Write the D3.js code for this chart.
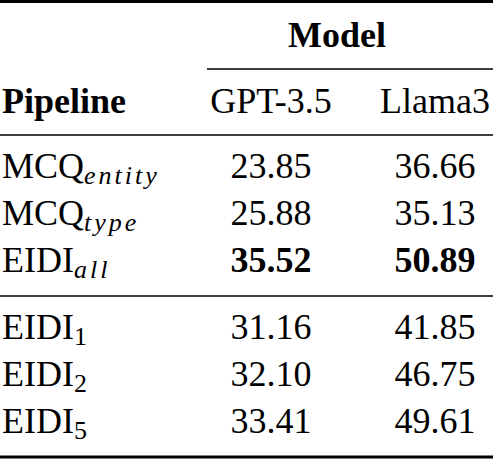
<!DOCTYPE html>
<html lang="en">
<head>
<meta charset="utf-8">
<style type="text/css">
    body { margin: 0; background: #fff; }
    .rule { stroke: #000; }
</style>
</head>
<body>
<svg width="495" height="460"></svg>

<script src="https://cdnjs.cloudflare.com/ajax/libs/d3/7.8.5/d3.min.js"></script>
<script type="text/javascript">
// table contents
var models = ["GPT-3.5", "Llama3"];
var pipelineBase = ["MCQ", "MCQ", "EIDI", "EIDI", "EIDI", "EIDI"];
var pipelineSub = ["entity", "type", "all", "1", "2", "5"];
var gptScores = [23.85, 25.88, 35.52, 31.16, 32.10, 33.41];
var llamaScores = [36.66, 35.13, 50.89, 41.85, 46.75, 49.61];
var bestRow = 2;

var svg = d3.select("svg");

var fs = 36,
    serif = "'Liberation Serif'";

// columns: model name and score centres
var x = d3.scalePoint().domain(models).range([271, 435]);

// rows: the second group sits below a rule
var slot = function(i) { return i < 3 ? i : i + 0.43; };
var y = d3.scaleLinear().domain([0, 1]).range([178, 225]);

// booktabs-like rules
var rules = [
    {x1: 0, x2: 493, y: 1.5, w: 3},
    {x1: 207, x2: 493, y: 69, w: 1.3},
    {x1: 0, x2: 493, y: 135, w: 1.3},
    {x1: 0, x2: 493, y: 296, w: 1.3},
    {x1: 0, x2: 493, y: 457, w: 3}
];
svg.selectAll("line.rule").data(rules).enter().append("line")
    .attr("class", "rule")
    .attr("x1", function(d) { return d.x1; })
    .attr("x2", function(d) { return d.x2; })
    .attr("y1", function(d) { return d.y; })
    .attr("y2", function(d) { return d.y; })
    .attr("stroke-width", function(d) { return d.w; });

// header
svg.append("text")
    .attr("x", 337).attr("y", 47)
    .attr("text-anchor", "middle")
    .style("font-family", serif)
    .attr("font-size", fs).attr("font-weight", "bold")
    .text("Model");

svg.append("text")
    .attr("x", 2).attr("y", 113)
    .style("font-family", serif)
    .attr("font-size", fs).attr("font-weight", "bold")
    .text("Pipeline");

svg.selectAll("text.model").data(models).enter().append("text")
    .attr("class", "model")
    .attr("x", function(d) { return x(d); })
    .attr("y", 113)
    .attr("text-anchor", "middle")
    .style("font-family", serif)
    .attr("font-size", fs)
    .text(function(d) { return d; });

// row labels with subscripts (words in italic, digits upright)
var labels = svg.selectAll("text.label").data(pipelineBase).enter().append("text")
    .attr("class", "label")
    .attr("x", 2)
    .attr("y", function(d, i) { return y(slot(i)); })
    .style("font-family", serif)
    .attr("font-size", fs);
labels.append("tspan").text(function(d) { return d; });
labels.append("tspan")
    .attr("dy", 6)
    .attr("font-size", 26)
    .attr("font-style", function(d, i) { return isNaN(+pipelineSub[i]) ? "italic" : "normal"; })
    .attr("letter-spacing", function(d, i) { return isNaN(+pipelineSub[i]) ? 3 : 0; })
    .text(function(d, i) { return pipelineSub[i]; });

// scores
[gptScores, llamaScores].forEach(function(scores, c) {
    svg.selectAll("text.score" + c).data(scores).enter().append("text")
        .attr("class", "score" + c)
        .attr("x", x(models[c]))
        .attr("y", function(d, i) { return y(slot(i)); })
        .attr("text-anchor", "middle")
        .style("font-family", serif)
        .attr("font-size", fs)
        .attr("font-weight", function(d, i) { return i === bestRow ? "bold" : "normal"; })
        .text(function(d) { return d.toFixed(2); });
});
</script>
</body>
</html>
